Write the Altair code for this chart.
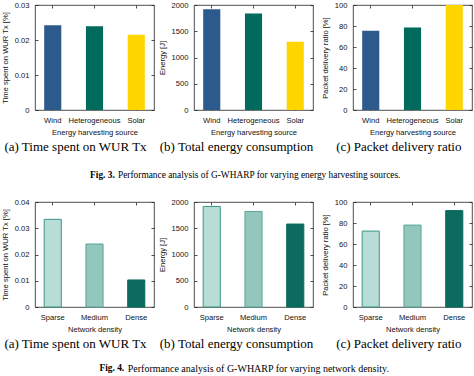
import altair as alt
import pandas as pd

# ---------------- data ----------------
sources = ["Wind", "Heterogeneous", "Solar"]
src_fill = ["#2d5a8c", "#006a5c", "#ffd500"]
wur_tx_src = [0.0242, 0.0239, 0.0215]
energy_src = [1920, 1840, 1300]
pdr_src = [75.5, 78.5, 100]

densities = ["Sparse", "Medium", "Dense"]
den_fill = ["#b8ddd6", "#93c6bc", "#0b6b5e"]
den_stroke = ["#3d9486", "#5aa497", "#0b6b5e"]
wur_tx_den = [0.0334, 0.0240, 0.0103]
energy_den = [1915, 1820, 1580]
pdr_den = [72.3, 78.0, 91.8]

y_titles = ["Time spent on WUR Tx [%]", "Energy [J]", "Packet delivery ratio [%]"]
captions = ["(a) Time spent on WUR Tx", "(b) Total energy consumption", "(c) Packet delivery ratio"]
ymax_src = [0.03, 2000, 100]
ymax_den = [0.04, 2000, 100]
y_steps = [0.01, 500, 20]
y_formats = [".2~f", "d", "d"]
fig3 = ["Fig. 3.", "Performance analysis of G-WHARP for varying energy harvesting sources."]
fig4 = ["Fig. 4.", "Performance analysis of G-WHARP for varying network density."]

W, H = 119, 105
TXT = "#111111"
NB = "\u00a0"
ZW = "\u200b"
SERIF = "Liberation Serif"


def panel(cats, vals, fills, strokes, xtitle, ytitle, ymax, step, fmt, sw, title):
    df = pd.DataFrame({"cat": cats, "val": vals})
    n = int(round(ymax / step))
    ticks = [round(i * step, 4) for i in range(n + 1)]
    xscale = alt.Scale(paddingInner=0.59, paddingOuter=0.22)
    yscale = alt.Scale(domain=[0, ymax], nice=False)
    bars = alt.Chart(df).mark_bar(strokeWidth=sw).encode(
        x=alt.X("cat:N", sort=cats, title=xtitle, scale=xscale,
                axis=alt.Axis(labelAngle=0, offset=-3, tickSize=3, labelPadding=6,
                              titlePadding=5, domain=False, grid=False)),
        y=alt.Y("val:Q", scale=yscale, title=ytitle,
                axis=alt.Axis(values=ticks, format=fmt, offset=-3, tickSize=3,
                              labelPadding=6, titlePadding=5, domain=False, grid=False)),
        fill=alt.Fill("cat:N", sort=cats, scale=alt.Scale(domain=cats, range=fills), legend=None),
        stroke=alt.Stroke("cat:N", sort=cats, scale=alt.Scale(domain=cats, range=strokes), legend=None),
    )
    mirror = alt.Chart(df).mark_bar(opacity=0).encode(
        x=alt.X("cat:N", sort=cats,
                axis=alt.Axis(orient="top", labels=False, title=None, offset=-3, tickSize=3,
                              domain=False, grid=False)),
        y=alt.Y("val:Q",
                axis=alt.Axis(orient="right", values=ticks, labels=False, title=None, offset=-3,
                              tickSize=3, domain=False, grid=False)),
    )
    return alt.layer(bars, mirror).resolve_axis(x="independent", y="independent").properties(
        width=W, height=H, title=title)


def cap_title(text, dx, anchor="middle", subtitle=None, sub_weight="normal", sub_pad=14,
              sub_size=9.4):
    kw = dict(text=text, orient="bottom", font=SERIF, fontSize=13, fontWeight="normal",
              color="#000000", offset=5, dx=dx, anchor=anchor)
    if subtitle is not None:
        kw.update(subtitle=subtitle, subtitleFont=SERIF, subtitleFontSize=sub_size,
                  subtitleFontWeight=sub_weight, subtitleColor="#000000",
                  subtitlePadding=sub_pad)
    return alt.TitleParams(**kw)


def row(cats, series, fills, strokes, xtitle, ymaxes, sw, fig, lead, trail, sub_pad, rest_size):
    titles = [
        cap_title(captions[0], -19, "middle", ZW + NB * lead + fig[0], "bold", sub_pad, 9.4),
        cap_title(captions[1], -17, "middle"),
        cap_title(captions[2], -11, "end", fig[1] + NB * trail + ZW, "normal", sub_pad, rest_size),
    ]
    panels = [
        panel(cats, series[i], fills, strokes, xtitle, y_titles[i], ymaxes[i], y_steps[i],
              y_formats[i], sw, titles[i])
        for i in range(3)
    ]
    return alt.hconcat(*panels, spacing=40, bounds="flush").resolve_scale(
        fill="independent", stroke="independent")


row1 = row(sources, [wur_tx_src, energy_src, pdr_src], src_fill, src_fill,
           "Energy harvesting source", ymax_src, 0, fig3, 23, 26, 17, 9.4)
row2 = row(densities, [wur_tx_den, energy_den, pdr_den], den_fill, den_stroke,
           "Network density", ymax_den, 1, fig4, 31, 29, 13, 10.0)

chart = alt.vconcat(row1, row2, spacing=17).resolve_scale(
    fill="independent", stroke="independent"
).properties(
    padding={"left": 0, "top": 0, "right": 0, "bottom": 0}, background="white"
).configure_axis(
    labelFont="Liberation Sans", labelFontSize=7.6, titleFont="Liberation Sans",
    titleFontSize=7.6, titleFontWeight="normal", labelColor=TXT, titleColor=TXT,
    tickColor="#222222", tickWidth=0.8,
).configure_view(stroke="#222222", strokeWidth=0.8)

chart.save("out.html", embed_options={"renderer": "svg", "actions": False})
